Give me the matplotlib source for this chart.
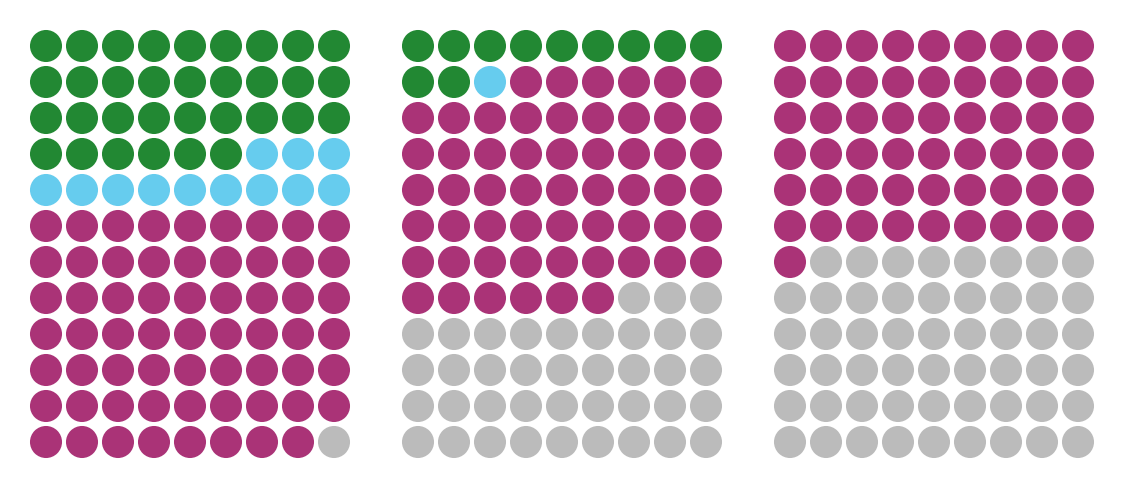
import matplotlib
matplotlib.use("Agg")
import matplotlib.pyplot as plt
from matplotlib.patches import Circle

categories = ["green", "blue", "purple", "gray"]
colors = {"green": "#228833", "blue": "#66CCEE", "purple": "#AA3377", "gray": "#BBBBBB"}
panel1 = [33, 12, 62, 1]
panel2 = [11, 1, 57, 39]
panel3 = [0, 0, 55, 53]
panels = [panel1, panel2, panel3]
ncols, nrows = 9, 12

W, H = 1124, 488
fig = plt.figure(figsize=(W / 100, H / 100), dpi=100)
lefts = [28, 400, 772]
for left, counts in zip(lefts, panels):
    ax = fig.add_axes([left / W, 28 / H, 324 / W, 432 / H])
    ax.set_xlim(-0.5, ncols - 0.5)
    ax.set_ylim(nrows - 0.5, -0.5)
    ax.set_aspect("equal")
    ax.axis("off")
    seq = []
    for cat, n in zip(categories, counts):
        seq += [cat] * n
    for i, cat in enumerate(seq):
        r, c = divmod(i, ncols)
        ax.add_patch(Circle((c, r), 0.445, color=colors[cat], lw=0))

fig.savefig("out.png", dpi=100)
